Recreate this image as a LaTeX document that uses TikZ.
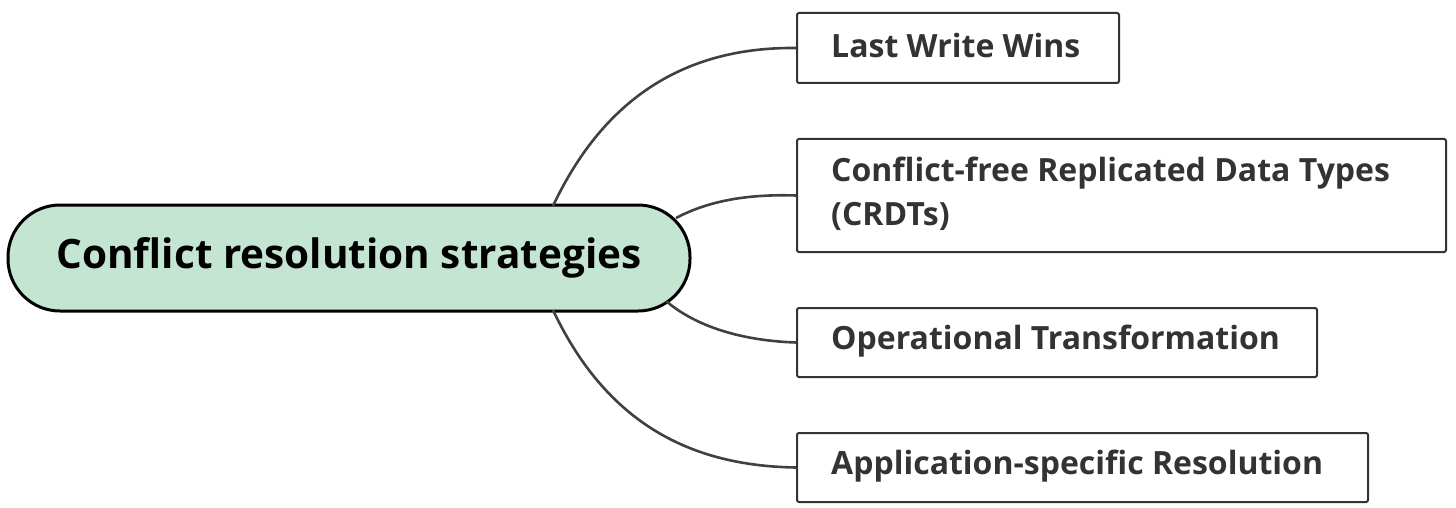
\documentclass[tikz,border=0pt]{standalone}
\usepackage{fontspec}
\setmainfont{Open Sans}
\begin{document}
\begin{tikzpicture}[x=1pt,y=-1pt,
  leaf/.style={draw=black!80,line width=2pt,rounded corners=2pt,anchor=north west,inner sep=0pt},
  lt/.style={font=\bfseries\fontsize{32}{44}\selectfont,text=black!80,align=left,anchor=west,inner sep=0pt},
  conn/.style={draw=black!75,line width=2.6pt}]
\useasboundingbox (0,0) rectangle (1456,508);
\node[draw=black,line width=3pt,fill={rgb,255:red,197;green,229;blue,211},rounded corners=52pt,minimum width=682pt,minimum height=106pt,font=\bfseries\fontsize{40.5}{48}\selectfont] (root) at (349,258) {Conflict resolution strategies};
\node[leaf,minimum width=322pt,minimum height=70pt] (a) at (796,12) {};
\node[leaf,minimum width=649pt,minimum height=113pt] (b) at (796,138) {};
\node[leaf,minimum width=520pt,minimum height=69pt] (c) at (796,307) {};
\node[leaf,minimum width=571pt,minimum height=69pt] (d) at (796,432) {};
\node[lt] (at) at (831,46) {Last Write Wins};
\node[lt] (bt) at (831,194) {Conflict-free Replicated Data Types\\(CRDTs)};
\node[lt] (ct) at (831,341) {Operational Transformation};
\node[lt] (dt) at (831,466) {Application-specific Resolution};
\coordinate (r1) at (553,206);
\coordinate (r2) at (676,218);
\coordinate (r3) at (666,301);
\coordinate (r4) at (553,310);
\draw[conn] (r1) .. controls (610,85) and (700,47) .. (a.west);
\draw[conn] (r2) .. controls (710,200) and (750,194) .. (b.west);
\draw[conn] (r3) .. controls (700,330) and (750,341) .. (c.west);
\draw[conn] (r4) .. controls (610,431) and (700,466) .. (d.west);
\end{tikzpicture}
\end{document}
